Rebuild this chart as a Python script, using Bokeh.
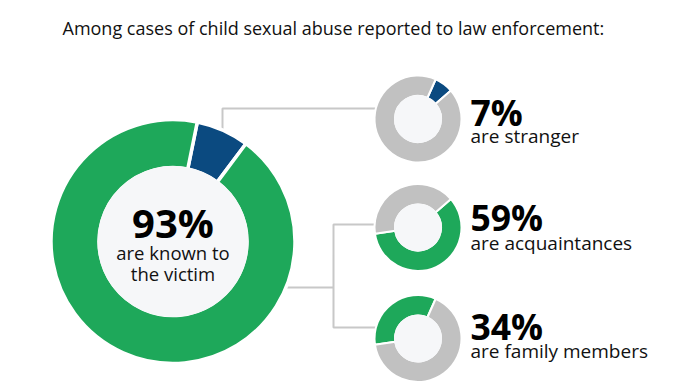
import math
from bokeh.plotting import figure
from bokeh.models import Range1d
from bokeh.core.properties import value
from bokeh.embed import file_html
from bokeh.resources import INLINE

# ---- data ----
title_text = "Among cases of child sexual abuse reported to law enforcement:"
known_pct = 93
known_label = ["are known to", "the victim"]
sub_pcts = [7, 59, 34]
sub_labels = ["are stranger", "are acquaintances", "are family members"]

# ---- style / layout ----
GREEN = "#1ea85a"
BLUE = "#0b4a80"
GRAY = "#c1c1c1"
INNER = "#f6f7f9"
LINE = "#c8c8c8"
FONT = value("Open Sans")

W, H = 680, 383
p = figure(width=W, height=H, output_backend="svg", toolbar_location=None,
           x_range=Range1d(0, W), y_range=Range1d(391 - H, 391),
           min_border=0, outline_line_color=None)
p.axis.visible = False
p.grid.visible = False
p.background_fill_color = "white"


def Y(py):
    # window pixel y -> data y
    return 391 - py


def TB(baseline, size):
    # place text (middle baseline) so that its alphabetic baseline lands at `baseline`
    return Y(baseline - 0.35 * size)


def arc(frac_start, frac_end, offset_deg):
    a0 = math.radians(offset_deg + 360 * frac_start / 100)
    a1 = math.radians(offset_deg + 360 * frac_end / 100)
    return math.pi / 2 - a0, math.pi / 2 - a1


# connectors (behind donuts)
p.line([222, 222, 378], [Y(190), Y(108), Y(108)], line_color=LINE, line_width=2)
p.line([270, 333], [Y(287), Y(287)], line_color=LINE, line_width=2)
p.line([378, 333, 333, 378], [Y(224), Y(224), Y(327), Y(327)], line_color=LINE, line_width=2)

# big donut
bx, by = 172.5, Y(241)
stranger = sub_pcts[0]
s0, s1 = arc(0, stranger, 11.5)
k0, k1 = arc(stranger, stranger + known_pct, 11.5)
p.annular_wedge(x=[bx, bx], y=[by, by], inner_radius=74, outer_radius=122,
                start_angle=[s0, k0], end_angle=[s1, k1], direction="clock",
                fill_color=[BLUE, GREEN], line_color="white", line_width=3.5)
p.circle(x=[bx], y=[by], radius=75.5, fill_color=INNER, line_color=None)

p.text(x=[bx], y=[TB(236, 40)], text=[f"{known_pct}%"], text_font=FONT, text_font_style="bold",
       text_font_size="40px", text_align="center", text_baseline="middle", text_color="black")
p.text(x=[bx, bx], y=[TB(258, 18.5), TB(279.5, 18.5)], text=known_label, text_font=FONT,
       text_font_size="18.5px", text_align="center", text_baseline="middle", text_color="#111111")

# small donuts
centers = [(417.5, Y(118.5)), (417.5, Y(227)), (417.5, Y(338))]
colors = [BLUE, GREEN, GREEN]
cum = 0
for i, pct in enumerate(sub_pcts):
    cx, cy = centers[i]
    h0, h1 = arc(cum, cum + pct, 24)
    g0, g1 = arc(cum + pct, cum + 100, 24)
    p.annular_wedge(x=[cx, cx], y=[cy, cy], inner_radius=23, outer_radius=43.5,
                    start_angle=[h0, g0], end_angle=[h1, g1], direction="clock",
                    fill_color=[colors[i], GRAY], line_color="white", line_width=2)
    p.circle(x=[cx], y=[cy], radius=24, fill_color=INNER, line_color=None)
    cum += pct

pct_base = [123.5, 228.5, 337.5]
lab_base = [142.5, 249.5, 357.5]
p.text(x=[470] * 3, y=[TB(v, 35.5) for v in pct_base], text=[f"{v}%" for v in sub_pcts],
       text_font=FONT, text_font_style="bold", text_font_size="35.5px",
       text_align="left", text_baseline="middle", text_color="black")
p.text(x=[470] * 3, y=[TB(v, 19) for v in lab_base], text=sub_labels,
       text_font=FONT, text_font_size="19px",
       text_align="left", text_baseline="middle", text_color="#111111")

# title
p.text(x=[62], y=[TB(33.5, 18)], text=[title_text], text_font=FONT, text_font_size="18px",
       text_align="left", text_baseline="middle", text_color="#111111")

open("out.html", "w").write(file_html(p, INLINE))
